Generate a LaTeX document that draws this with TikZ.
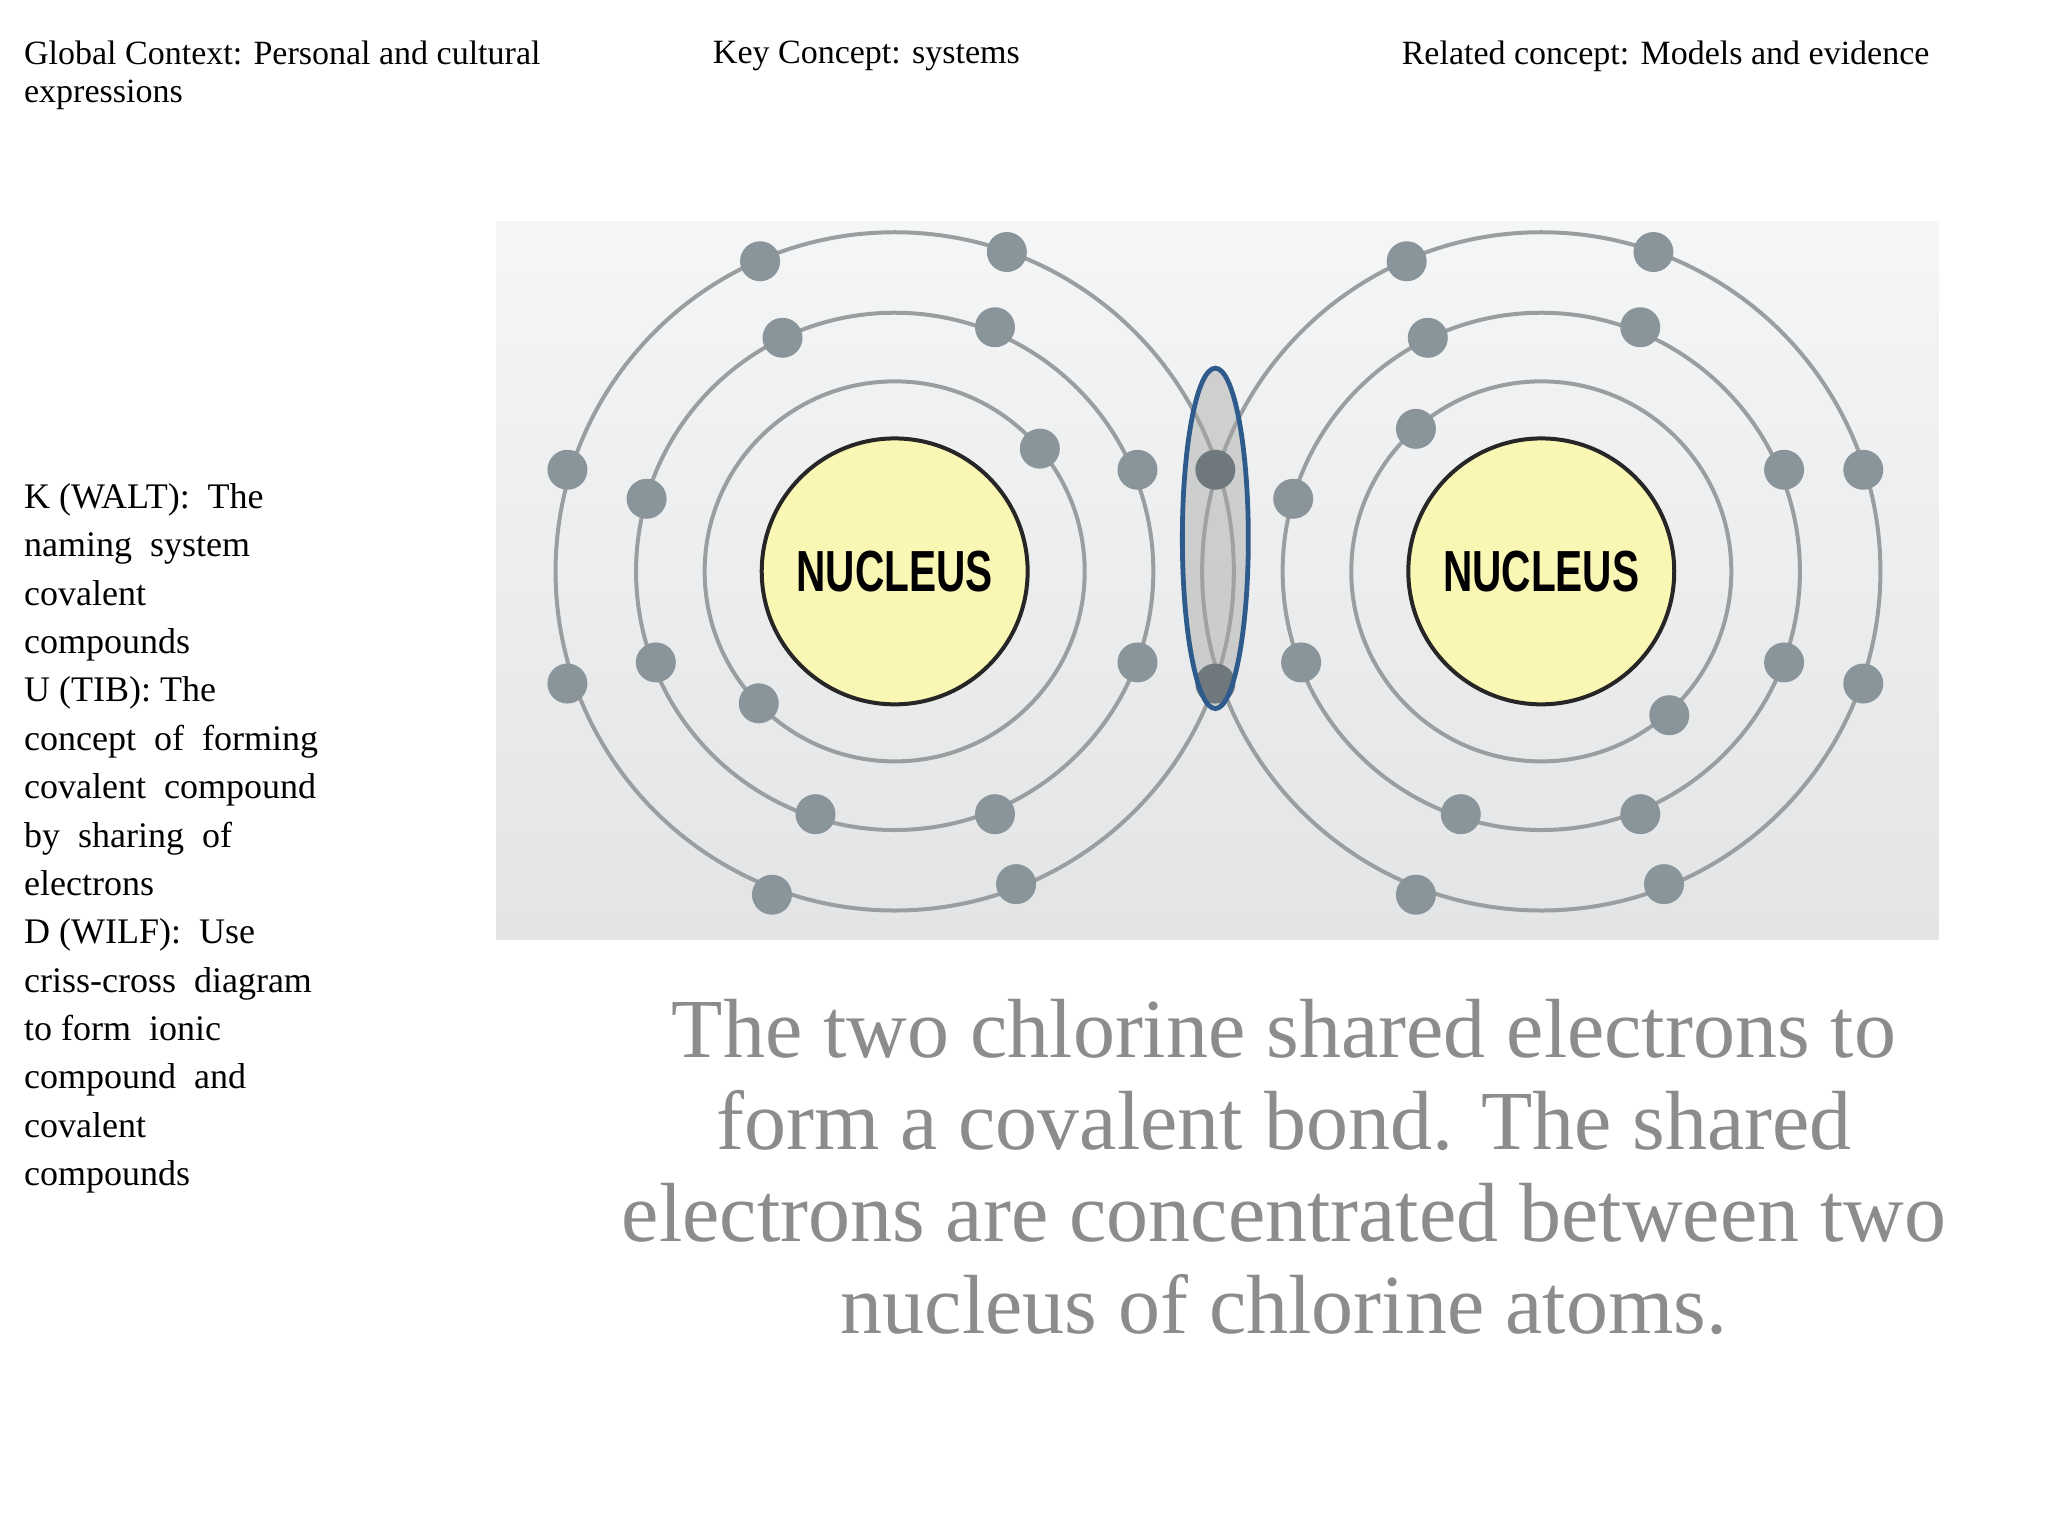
\documentclass[tikz,border=0pt]{standalone}
\usepackage{fontspec}
\setmainfont{Liberation Serif}
\newfontfamily\nucfont{Liberation Sans}
\definecolor{orbitgray}{HTML}{9B9EA0}
\definecolor{elecgray}{HTML}{8A959B}
\definecolor{sharegray}{HTML}{6F797D}
\definecolor{nucyellow}{HTML}{FAF6B4}
\definecolor{bondblue}{HTML}{2E5A8C}
\definecolor{bg}{HTML}{EEF0F1}
\definecolor{bigtext}{HTML}{8C8C8C}
\begin{document}
\begin{tikzpicture}[x=0.66pt,y=-0.66pt,
  orbit/.style={draw=orbitgray,line width=2pt},
  elec/.style={circle,fill=elecgray,minimum size=20pt,inner sep=0pt},
  shelec/.style={circle,fill=sharegray,minimum size=20pt,inner sep=0pt},
  nuc/.style={circle,draw=black!85,line width=2pt,fill=nucyellow,minimum size=133pt,inner sep=0pt,font=\nucfont\bfseries\fontsize{29}{30}\selectfont},
  hdr/.style={anchor=north west,font=\fontsize{17}{19}\selectfont,align=left,inner sep=0pt}]
\useasboundingbox (0,0) rectangle (1552,1164);
\fill[white] (0,0) rectangle (1552,1164);
% headers
\node[hdr] (gc) at (18,31) {Global Context: Personal and cultural\\expressions};
\node[hdr] (kc) at (540,31) {Key Concept: systems};
\node[hdr] (rc) at (1062,31) {Related concept: Models and evidence};
% left text
\node[anchor=north west,inner sep=0pt,align=left,font=\fontsize{18}{24.2}\selectfont] (obj) at (18,366) {%
K (WALT):\ \ The\\naming\ \ system\\covalent\\compounds\\U (TIB): The\\concept\ \ of\ \ forming\\covalent\ \ compound\\by\ \ sharing\ \ of\\electrons\\D (WILF):\ \ Use\\criss-cross\ \ diagram\\to\ form\ \ ionic\\compound\ \ and\\covalent\\compounds};
% diagram background
\shade[top color=bg!60,bottom color=bg!95!black] (376,168) rectangle (1469,712);
% orbits
\foreach \cx in {678,1168}{
  \foreach \r in {144,196,257} \draw[orbit] (\cx,433) circle[radius=\r];
}
% shared region
\fill[gray!70,opacity=0.45] (921,408) ellipse[x radius=25,y radius=129];
% nuclei
\node[nuc] (nucL) at (678,433) {\scalebox{0.7}[1]{NUCLEUS}};
\node[nuc] (nucR) at (1168,433) {\scalebox{0.7}[1]{NUCLEUS}};
% electrons left
\foreach \p [count=\i] in {(576,198),(763,191),(430,356),(430,518),(585,678),(770,670),
  (593,256),(754,248),(490,378),(497,502),(862,356),(862,502),(618,617),(754,617),(788,340),(575,533)}
  \node[elec] (eL\i) at \p {};
% electrons right
\foreach \p [count=\i] in {(1066,198),(1253,191),(1412,356),(1412,518),(1073,678),(1261,670),
  (1082,256),(1243,248),(980,378),(986,502),(1352,356),(1352,502),(1107,617),(1243,617),(1073,325),(1265,542)}
  \node[elec] (eR\i) at \p {};
% shared electrons
\node[shelec] (s1) at (921,356) {};
\node[shelec] (s2) at (921,518) {};
\draw[bondblue,line width=2.4pt] (921,408) ellipse[x radius=25,y radius=129];
% caption
\node[align=center,text=bigtext,font=\fontsize{42}{46}\selectfont,anchor=north] (cap) at (973,752) {The two chlorine shared electrons to\\form a covalent bond. The shared\\electrons are concentrated between two\\nucleus of chlorine atoms.};
\end{tikzpicture}
\end{document}
